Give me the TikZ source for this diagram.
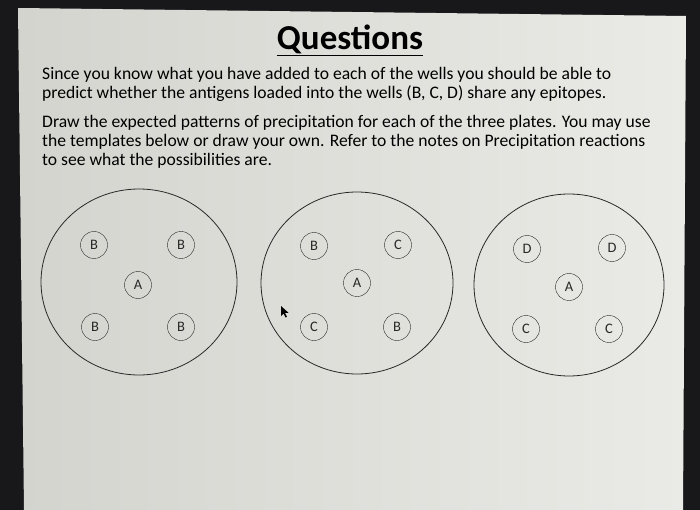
\documentclass[tikz,border=0pt]{standalone}
\usepackage{fontspec}
\setmainfont{Carlito}
\definecolor{frame}{RGB}{24,24,27}
\definecolor{screenL}{RGB}{212,212,207}
\definecolor{screenR}{RGB}{234,234,230}
\definecolor{ink}{RGB}{40,40,40}
\tikzset{
  well/.style={draw=ink, circle, minimum size=27pt, inner sep=0pt,
    font=\fontsize{14.5}{14.5}\selectfont, text=ink},
  plate/.style={draw=ink, line width=0.8pt},
  textline/.style={anchor=base west, inner sep=0pt,
    font=\fontsize{17.6}{17.6}\selectfont, text=black}
}
\begin{document}
\begin{tikzpicture}[x=1pt,y=-1pt]
  \useasboundingbox (0,0) rectangle (700,510);
  % monitor frame and screen
  \fill[frame] (0,0) rectangle (700,510);
  \shade[left color=screenL, right color=screenR] (18,8) -- (686,16) -- (683,510) -- (24,510) -- cycle;
  % title and instructions
  \node (title) at (350,40) {\fontsize{35}{35}\selectfont\bfseries\underline{Questions}};
  \node[textline] (line1) at (42,80) {Since you know what you have added to each of the wells you should be able to};
  \node[textline] (line2) at (42,99) {predict whether the antigens loaded into the wells (B, C, D) share any epitopes.};
  \node[textline] (line3) at (42,128) {Draw the expected patterns of precipitation for each of the three plates. You may use};
  \node[textline] (line4) at (42,147) {the templates below or draw your own. Refer to the notes on Precipitation reactions};
  \node[textline] (line5) at (42,166) {to see what the possibilities are.};
  % plate 1
  \draw[plate] (139,282) ellipse [x radius=98, y radius=93];
  \node[well] (b11) at (94,245) {B};
  \node[well] (b12) at (181,245) {B};
  \node[well] (a1) at (138,285) {A};
  \node[well] (b13) at (95,327) {B};
  \node[well] (b14) at (181,327) {B};
  % plate 2
  \draw[plate] (357,283) ellipse [x radius=96, y radius=91];
  \node[well] (b21) at (314,246) {B};
  \node[well] (c21) at (398,245) {C};
  \node[well] (a2) at (357,283) {A};
  \node[well] (c22) at (314,327) {C};
  \node[well] (b22) at (397,327) {B};
  % plate 3
  \draw[plate] (569,285) ellipse [x radius=95, y radius=91];
  \node[well] (d31) at (527,249) {D};
  \node[well] (d32) at (612,248) {D};
  \node[well] (a3) at (569,287) {A};
  \node[well] (c31) at (526,329) {C};
  \node[well] (c32) at (609,329) {C};
  % mouse pointer
  \fill[black] (281,306) -- (281,316) -- (283.5,313.5) -- (285.5,317.5) -- (287,316.8) -- (285,312.8) -- (288.5,312.8) -- cycle;
\end{tikzpicture}
\end{document}
